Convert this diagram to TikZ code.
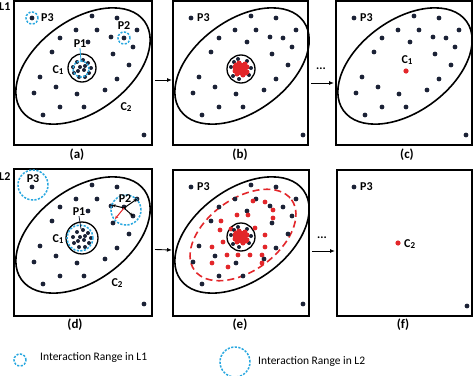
\documentclass[tikz,border=0pt]{standalone}
\usepackage{fontspec}
\setmainfont{Carlito}
\usetikzlibrary{arrows.meta}
\definecolor{dotc}{HTML}{1B2236}
\definecolor{rangec}{HTML}{29A8E0}
\definecolor{redc}{HTML}{E3262A}
\newcommand\lowdig[1]{{\fontsize{9}{9}\selectfont\raisebox{-0.3ex}{#1}}}
\def\basedots{(92,16),(117,18),(137,30),(76,30),(97,30),(60,38),(111,37),(124,38),(88,42),(133,47),(52,52),(113,54),(129,65),(40,77),(117,79),(56,87),(34,93),(105,90),(77,94),(60,107),(84,107),(43,115),(144,135),(32,18)}
\def\clusterdots{(-5,-6),(1,-8),(6,-5),(9,0),(7,5),(3,9),(-3,9),(-8,5),(-9,-1),(-2,-1),(2,2),(-4,3),(3,-2)}
\def\redblob{(0,0),(-3,-3),(3,-3),(-3,3),(3,3),(0,-4),(0,4),(-4,0),(4,0),(-5,-4),(5,4),(4,-5),(-4,5),(-6,2),(6,-2),(2,6),(-2,-6),(6,3),(-6,-2),(1,-2),(-1,2)}
\def\darkring{(-3,-10),(6,-8),(10,-1),(8,6),(-2,10),(-8,7),(-10,-2),(-7,-7)}
\def\reddots{(94,32),(106,33),(114,41),(78,46),(89,46),(114,49),(62,52),(61,61),(106,66),(64,73),(53,78),(106,78),(68,86),(79,86),(91,86),(103,86),(53,94),(69,98),(103,94),(96,59),(72,60)}
\begin{document}
\begin{tikzpicture}[x=1pt,y=-1pt,
  panel/.style={draw=black, line width=1.6pt, minimum width=138pt, minimum height=144pt, anchor=north west, inner sep=0pt, outer sep=0pt},
  bigell/.style={draw=black, line width=1.6pt},
  lbl/.style={font=\bfseries\fontsize{12}{13}\selectfont, inner sep=0pt, text=black},
  captxt/.style={font=\bfseries\fontsize{13}{14}\selectfont, inner sep=0pt, text=black},
  leg/.style={font=\fontsize{11.5}{13}\selectfont, inner sep=0pt, anchor=west, text=black},
  rng/.style={draw=rangec, line width=1.5pt, dash pattern=on 2.2pt off 1.4pt},
  flow/.style={-{Latex[length=5pt,width=4pt]}, line width=0.9pt},
  dot/.style={fill=dotc},
]
\useasboundingbox (0,0) rectangle (474,375);
\fill[white] (0,0) rectangle (474,375);

% panels
\node[panel] (pa) at (14,1) {};
\node[panel, minimum width=135pt] (pb) at (173,1) {};
\node[panel, minimum width=136pt] (pc) at (336,1) {};
\node[panel, minimum height=147pt] (pd) at (14,169) {};
\node[panel, minimum width=136pt, minimum height=146pt] (pe) at (173,170) {};
\node[panel, minimum width=135pt, minimum height=146pt] (pf) at (337,170) {};

% row labels
\node[lbl, anchor=west] (L1) at (-1,7) {L1};
\node[lbl, anchor=west] (L2) at (-1,177) {L2};

% captions
\node[captxt] (ca) at (77,155) {(a)};
\node[captxt] (cb) at (240,155) {(b)};
\node[captxt] (cc) at (407,155) {(c)};
\node[captxt] (cd) at (75,325) {(d)};
\node[captxt] (ce) at (240,325) {(e)};
\node[captxt] (cf) at (403,325) {(f)};

% flow arrows
\draw[flow] ([shift={(3,7)}]pa.east) -- ([shift={(-1,7)}]pb.west);
\draw[flow] ([shift={(3,10)}]pb.east) -- ([shift={(-2,10)}]pc.west);
\node[font=\bfseries\fontsize{12}{12}\selectfont, inner sep=0pt] (e1) at (321,69) {...};
\draw[flow] ([shift={(3,7)}]pd.east) -- ([shift={(-1,7)}]pe.west);
\draw[flow] ([shift={(3,8)}]pe.east) -- ([shift={(-2,8)}]pf.west);
\node[font=\bfseries\fontsize{12}{12}\selectfont, inner sep=0pt] (e2) at (322,238) {...};

% ---------- (a)
\begin{scope}
  \draw[bigell, rotate around={36:(83,66)}] (83,66) ellipse (76 and 46);
  \draw[line width=1.3pt] (82,68) circle[radius=14pt];
  \foreach \p in \basedots {\fill[dot] \p circle[radius=2.4pt];}
  \begin{scope}[shift={(82,68)}]
    \foreach \p in \clusterdots {\fill[dot] \p circle[radius=2pt];}
  \end{scope}
  \draw[rng] (32,18) circle[radius=6pt];
  \draw[rng] (124,38) circle[radius=6pt];
  \draw[rng] (81,69) circle[radius=8pt];
  \node[lbl, anchor=west] (p3a) at (41,18) {P3};
  \node[lbl] (p2a) at (124,26) {P2};
  \node[lbl] (p1a) at (80,44) {P1};
  \coordinate (p1da) at (81,62);
  \draw[rangec, line width=0.8pt] (p1a.south) -- (p1da);
  \node[lbl] (c1a) at (58,70) {C\lowdig{1}};
  \node[lbl] (c2a) at (126,107) {C\lowdig{2}};
\end{scope}

% ---------- (b)
\begin{scope}[shift={(159,0)}]
  \draw[bigell, rotate around={36:(83,66)}] (83,66) ellipse (76 and 46);
  \draw[line width=1.3pt] (82,69) circle[radius=14pt];
  \foreach \p in \basedots {\fill[dot] \p circle[radius=2.4pt];}
  \begin{scope}[shift={(82,69)}]
    \foreach \p in \darkring {\fill[dot] \p circle[radius=2pt];}
    \foreach \p in \redblob {\fill[redc] \p circle[radius=2.5pt];}
  \end{scope}
  \node[lbl, anchor=west] (p3b) at (38,18) {P3};
\end{scope}

% ---------- (c)
\begin{scope}[shift={(322,0)}]
  \draw[bigell, rotate around={36:(83,66)}] (83,66) ellipse (76 and 46);
  \foreach \p in \basedots {\fill[dot] \p circle[radius=2.4pt];}
  \fill[redc] (84,71) circle[radius=2.6pt];
  \node[lbl] (c1c) at (85,60) {C\lowdig{1}};
  \node[lbl, anchor=west] (p3c) at (38,18) {P3};
\end{scope}

% ---------- (d)
\begin{scope}[shift={(0,169)}]
  \draw[bigell, rotate around={36:(83,66)}] (83,66) ellipse (76 and 46);
  \draw[line width=1.3pt] (82,69) circle[radius=16pt];
  \foreach \p in \basedots {\fill[dot] \p circle[radius=2.4pt];}
  \begin{scope}[shift={(82,69)}]
    \foreach \p in \clusterdots {\fill[dot] \p circle[radius=2pt];}
  \end{scope}
  \draw[rng] (80,69) circle[radius=13pt];
  \draw[rng] (33,16) circle[radius=15pt];
  \draw[rng] (126,41) circle[radius=15pt];
  \coordinate (p2d) at (124,39);
  \coordinate (n1) at (112,36);
  \coordinate (n2) at (137,30);
  \coordinate (n3) at (133,47);
  \coordinate (n4) at (115,50);
  \draw[-{Stealth[length=3.5pt,width=3pt]}, line width=1pt] (p2d) -- (n1);
  \draw[-{Stealth[length=3.5pt,width=3pt]}, line width=1pt] (p2d) -- (n2);
  \draw[-{Stealth[length=3.5pt,width=3pt]}, line width=1pt] (p2d) -- (n3);
  \draw[-{Stealth[length=3.5pt,width=3pt]}, line width=1pt, draw=redc] (p2d) -- (n4);
  \node[lbl] (p3d) at (33,10) {P3};
  \node[lbl] (p2dl) at (125,30) {P2};
  \node[lbl] (p1d) at (79,43) {P1};
  \coordinate (p1dd) at (81,60);
  \draw[dotc, line width=0.8pt] (p1d.south) -- (p1dd);
  \node[lbl] (c1d) at (58,70) {C\lowdig{1}};
  \node[lbl] (c2d) at (117,114) {C\lowdig{2}};
\end{scope}

% ---------- (e)
\begin{scope}[shift={(159,169)}]
  \draw[bigell, rotate around={36:(83,66)}] (83,66) ellipse (76 and 46);
  \draw[draw=redc, line width=1.6pt, dash pattern=on 7pt off 4pt, rotate around={36:(84,66)}] (84,66) ellipse (60 and 36);
  \draw[line width=1.3pt] (82,68) circle[radius=14pt];
  \foreach \p in \basedots {\fill[dot] \p circle[radius=2.4pt];}
  \foreach \p in \reddots {\fill[redc] \p circle[radius=2.4pt];}
  \begin{scope}[shift={(82,68)}]
    \foreach \p in \darkring {\fill[dot] \p circle[radius=2pt];}
    \foreach \p in \redblob {\fill[redc] \p circle[radius=2.5pt];}
  \end{scope}
  \node[lbl, anchor=west] (p3e) at (38,18) {P3};
\end{scope}

% ---------- (f)
\begin{scope}[shift={(322,169)}]
  \fill[dot] (32,18) circle[radius=2.4pt];
  \fill[dot] (145,137) circle[radius=2.4pt];
  \fill[redc] (76,74) circle[radius=2.6pt];
  \node[lbl, anchor=west] (p3f) at (38,18) {P3};
  \node[lbl, anchor=west] (c2f) at (82,75) {C\lowdig{2}};
\end{scope}

% legend
\node[circle, rng, minimum size=12pt, inner sep=0pt] (lg1) at (20,360) {};
\node[leg] (lt1) at (40,358) {Interaction Range in L1};
\node[circle, rng, minimum size=30pt, inner sep=0pt] (lg2) at (235,362) {};
\node[leg] (lt2) at (258,362) {Interaction Range in L2};
\end{tikzpicture}
\end{document}
